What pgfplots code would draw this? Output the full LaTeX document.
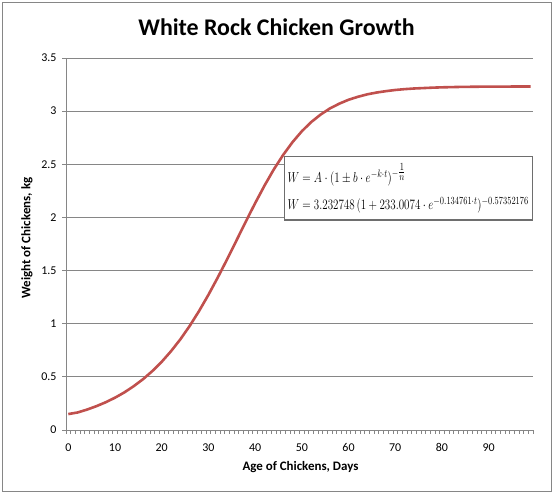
\documentclass[border=0pt]{standalone}
\usepackage{pgfplots}
\pgfplotsset{compat=1.18}
\usepackage{graphicx}
\usepackage{fontspec}
\setmainfont{Carlito}

\definecolor{excelred}{HTML}{C0504D}
\definecolor{gridgray}{HTML}{868686}
\definecolor{boxgray}{HTML}{6E6E6E}

% weight of chickens (kg) against age (days)
\pgfplotstableread{
t w
0 0.150
2 0.165
4 0.192
6 0.224
8 0.261
10 0.304
12 0.354
14 0.412
16 0.478
18 0.555
20 0.642
22 0.742
24 0.854
26 0.980
28 1.120
30 1.272
32 1.435
34 1.606
36 1.783
38 1.961
40 2.134
42 2.299
44 2.452
46 2.588
48 2.708
50 2.811
52 2.897
54 2.967
56 3.025
58 3.070
60 3.107
62 3.135
64 3.158
66 3.175
68 3.188
70 3.199
72 3.207
74 3.213
76 3.217
78 3.221
80 3.224
82 3.226
84 3.228
86 3.229
88 3.230
90 3.230
92 3.231
94 3.231
96 3.232
98 3.232
99 3.232
}\growth

\begin{document}
\begin{tikzpicture}
\useasboundingbox (0,0) rectangle (554bp,494bp);
\draw[gridgray, line width=0.9bp] (2.5bp,2.5bp) rectangle (551.5bp,491.5bp);
\begin{axis}[
  at={(66bp,64bp)}, anchor=south west,
  width=467bp, height=372bp, scale only axis,
  xmin=-0.5, xmax=99.5, ymin=0, ymax=3.5,
  axis x line=bottom, axis y line=left,
  axis line style={-, gridgray, line width=0.8bp},
  xtick={-0.5,0.5,...,99.5}, xticklabels={},
  extra x ticks={0,10,...,90},
  extra x tick style={major tick length=0pt},
  ytick={0,0.5,...,3.5},
  ymajorgrids, grid style={gridgray, line width=0.8bp},
  tick align=outside, major tick length=4bp,
  tick style={gridgray, line width=0.8bp},
  tick label style={font=\fontsize{12}{14}\selectfont},
  /pgf/number format/assume math mode=true,
  yticklabel style={xshift=-2bp},
  xticklabel style={yshift=-10bp},
]
\addplot[excelred, line width=2.6bp] table[x=t, y=w] {\growth};
\end{axis}
\node[anchor=base, font=\fontsize{24}{28}\bfseries] at (276.5bp,458.7bp) {White Rock Chicken Growth};
\node[anchor=base, font=\fontsize{13}{15}\bfseries] at (300.5bp,23.3bp) {Age of Chickens, Days};
\node[rotate=90, font=\fontsize{13}{15}\bfseries] at (27bp,256bp) {Weight of Chickens, kg};
\draw[boxgray, line width=1.5bp, fill=white] (284.7bp,274bp) rectangle (532.5bp,337.3bp);
\node[anchor=base west, inner sep=0pt, font=\fontsize{15}{17}\selectfont] at (287.5bp,311.5bp)
  {\scalebox{0.77}[1]{$W = A\cdot(1 \pm b\cdot e^{-k\cdot t})^{-\textstyle\frac{1}{n}}$}};
\node[anchor=base west, inner sep=0pt, font=\fontsize{15}{17}\selectfont] at (287.5bp,284.5bp)
  {\scalebox{0.77}[1]{$W = 3.232748\,(1 + 233.0074\cdot e^{-0.134761\cdot t})^{-0.57352176}$}};
\end{tikzpicture}
\end{document}
